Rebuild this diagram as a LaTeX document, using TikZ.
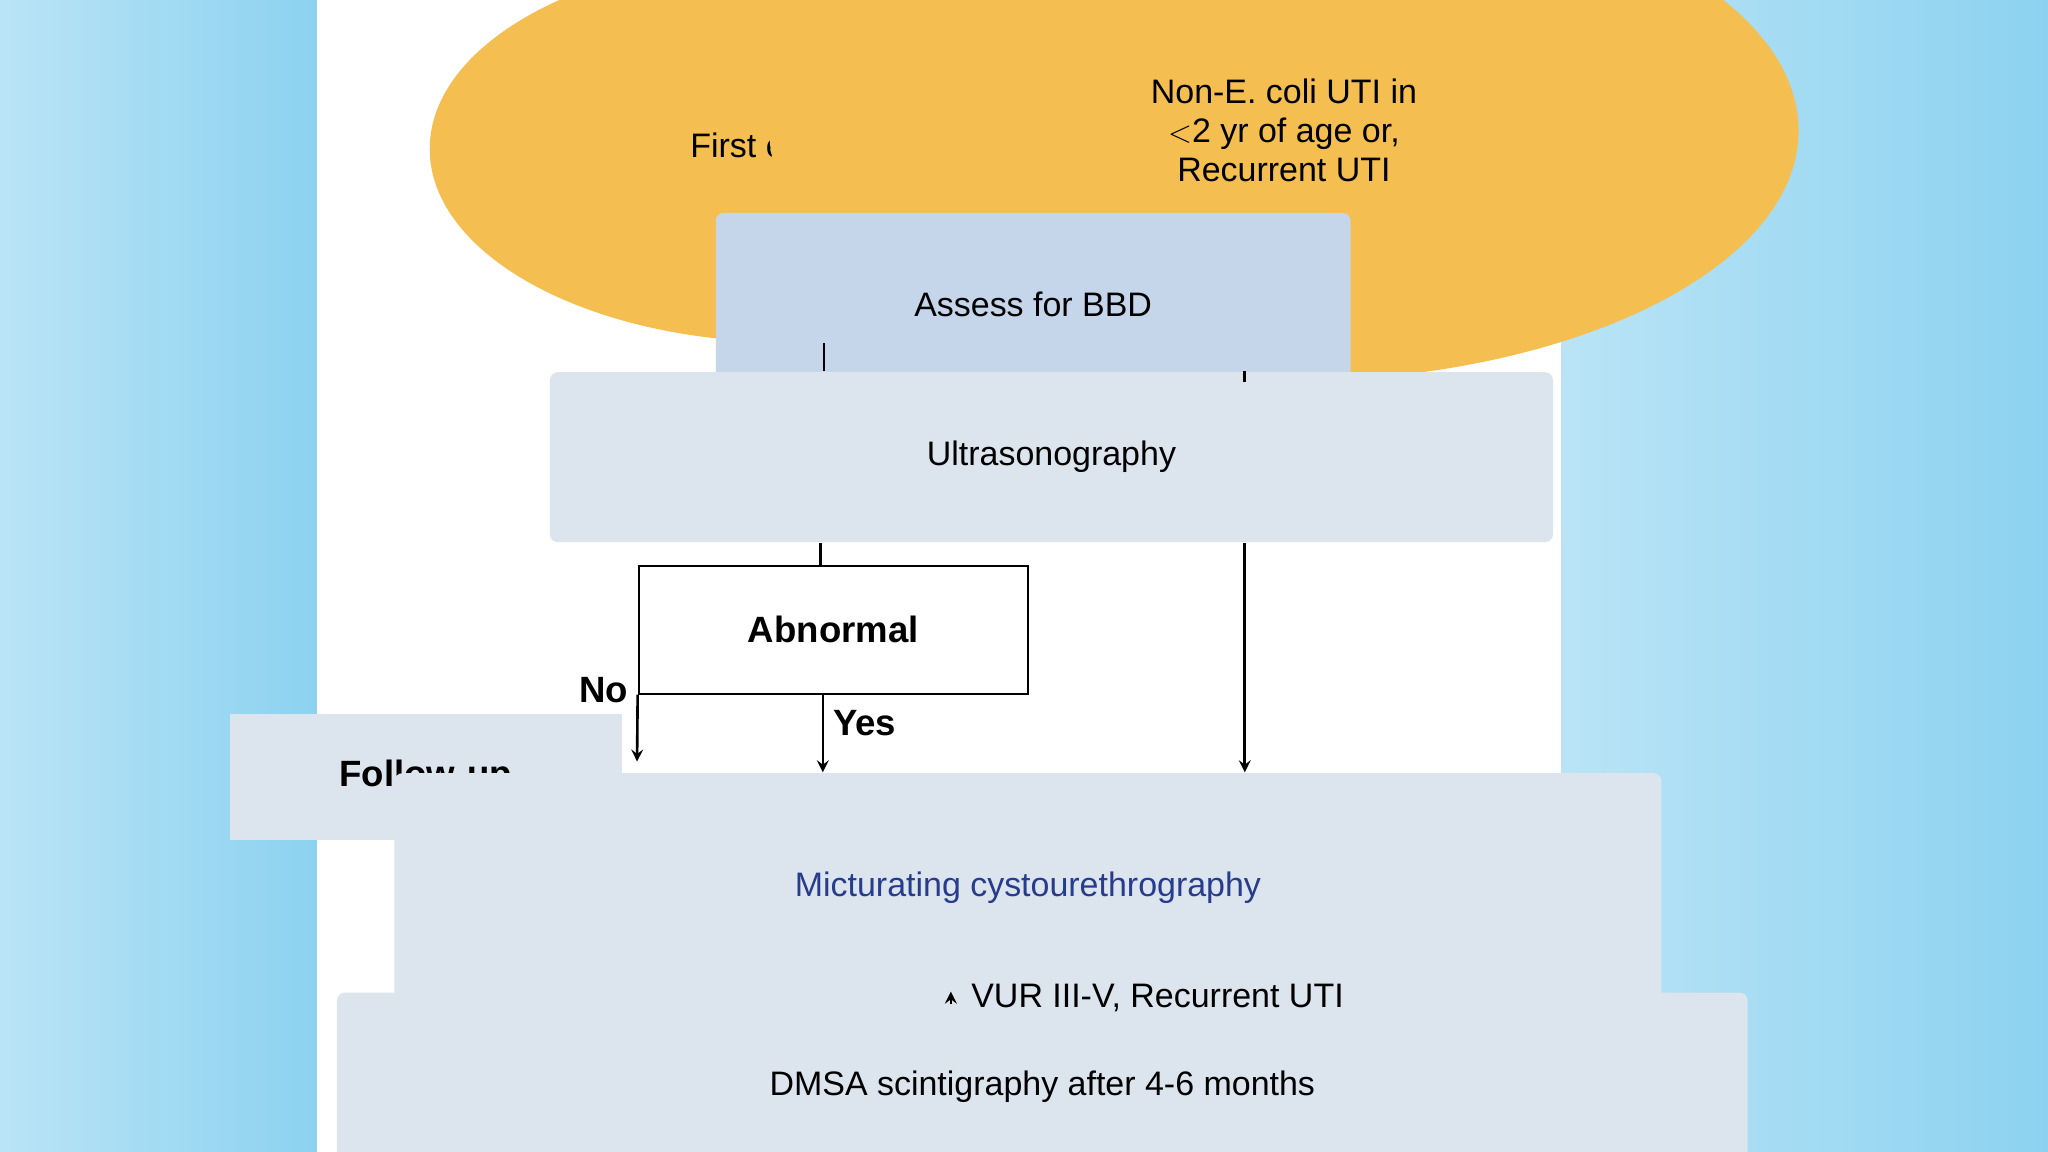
\documentclass[tikz,border=0pt]{standalone}
\usepackage{fontspec}
\setmainfont{Liberation Sans}
\usetikzlibrary{shapes.geometric}
\definecolor{egg}{RGB}{245,190,80}
\definecolor{boxblue}{RGB}{197,213,234}
\definecolor{boxgrey}{RGB}{220,228,238}
\definecolor{sky}{RGB}{140,210,240}
\definecolor{textblue}{RGB}{40,60,140}
\tikzset{every picture/.style={line width=0.75pt}}
\tikzset{
  egg/.style={ellipse, fill=egg, draw=none, font=\fontsize{13}{15}\selectfont, align=center, inner sep=0pt},
  stage/.style={rectangle, rounded corners=3pt, draw=none, font=\fontsize{13}{15}\selectfont, inner sep=0pt},
  link/.style={line width=1pt},
  arr/.style={line width=1pt, -stealth}
}
\begin{document}
\begin{tikzpicture}[x=0.5pt,y=0.5pt,yscale=-1,xscale=1]
    \useasboundingbox (0,0) rectangle (1568,882);
    % background
    \shade [left color=sky!60!white, right color=sky] (0,0) rectangle (243,882);
    \shade [left color=sky!60!white, right color=sky] (1195,0) rectangle (1568,882);
    \fill [white] (243,0) rectangle (1195,882);

    % ellipses
    \node [egg, minimum width=274, minimum height=148] (first) at (603,114) {First episode};
    \node [egg, minimum width=394, minimum height=192] (recur) at (983,100) {Non-E. coli UTI in\\$<$2 yr of age or,\\Recurrent UTI};

    % boxes
    \node [stage, fill=boxblue, minimum width=243, minimum height=70] (bbd) at (791,233) {Assess for BBD};
    \node [stage, fill=boxgrey, minimum width=384, minimum height=65] (us) at (805,350) {Ultrasonography};
    \node [rectangle, draw=black, fill=white, line width=0.8pt, minimum width=149, minimum height=49, font=\fontsize{14}{16}\selectfont\bfseries, inner sep=0pt] (abn) at (638,482) {Abnormal};
    \node [stage, rounded corners=0pt, fill=boxgrey, minimum width=150, minimum height=48, font=\fontsize{14}{16}\selectfont\bfseries] (fu) at (326,595) {Follow-up};
    \node [stage, fill=boxgrey, minimum width=485, minimum height=88, text=textblue] (mcu) at (787,680) {Micturating cystourethrography};
    \node [stage, fill=boxgrey, minimum width=540, minimum height=72] (dmsa) at (798,832) {DMSA scintigraphy after 4-6 months};

    % connectors
    \draw [link] (first.south -| 631,0) -- (us.north -| 631,0);
    \draw [link] (recur.south -| 953,0) -- (us.north -| 953,0);
    \draw [link] (us.south -| 628,0) -- (abn.north -| 628,0);
    \draw [arr] (abn.south -| 630,0) -- (mcu.north -| 630,0);
    \draw [arr] (us.south -| 953,0) -- (mcu.north -| 953,0);
    \draw [arr] (abn.south west) -- ([shift={(11,-12)}]fu.east);
    \draw [arr] (mcu.south -| 728,0) -- node [right=4pt, font=\fontsize{13}{15}\selectfont] {VUR III-V, Recurrent UTI} (dmsa.north -| 728,0);

    % labels
    \node [font=\fontsize{14}{16}\selectfont\bfseries] (no) at (462,528) {No};
    \node [font=\fontsize{14}{16}\selectfont\bfseries] (yes) at (662,554) {Yes};
\end{tikzpicture}
\end{document}
